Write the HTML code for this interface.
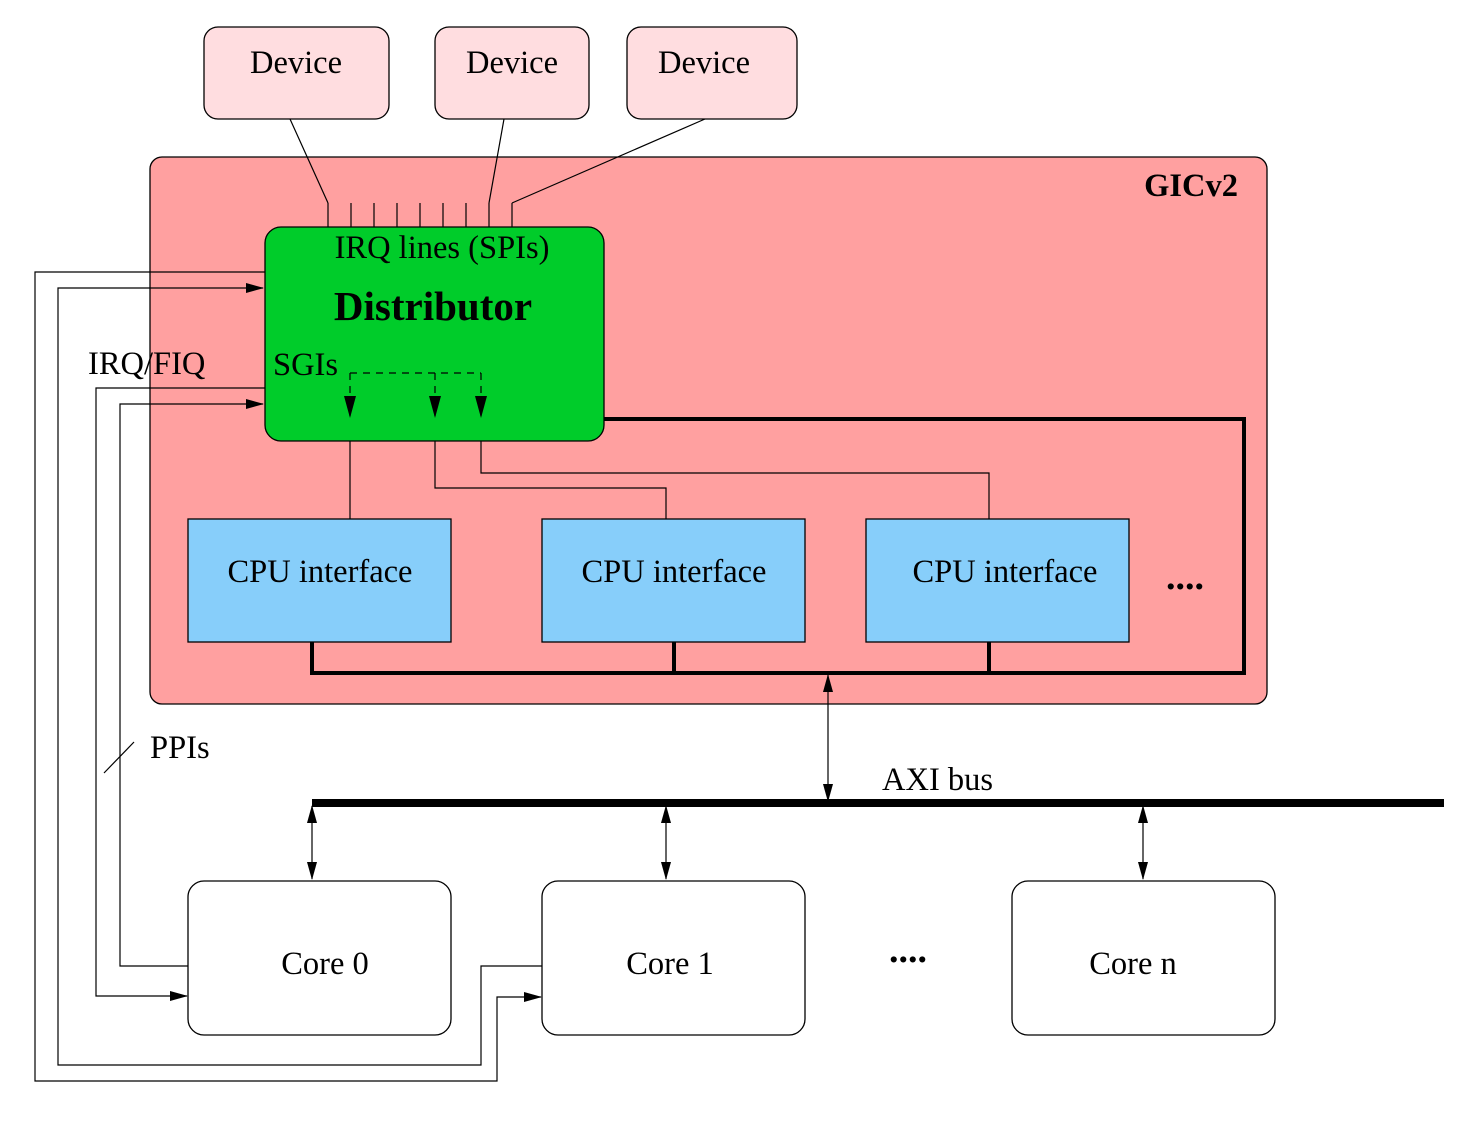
<!DOCTYPE html>
<html><head><style>body{margin:0;background:#fff}</style></head><body>
<svg width="1470" height="1116" xmlns="http://www.w3.org/2000/svg" font-family="Liberation Serif, serif">
<defs>
<marker id="a" markerWidth="18" markerHeight="10" refX="17" refY="5" orient="auto" markerUnits="userSpaceOnUse"><path d="M0,0 L18,5 L0,10 z" fill="#000"/></marker>
<marker id="s" markerWidth="18" markerHeight="10" refX="1" refY="5" orient="auto" markerUnits="userSpaceOnUse"><path d="M18,0 L0,5 L18,10 z" fill="#000"/></marker>
</defs>
<g stroke="#000" stroke-width="1.3">
<rect x="204" y="27" width="185" height="92" rx="14" fill="#ffdde0"/>
<rect x="435" y="27" width="154" height="92" rx="14" fill="#ffdde0"/>
<rect x="627" y="27" width="170" height="92" rx="14" fill="#ffdde0"/>
<rect x="150" y="157" width="1117" height="547" rx="12" fill="#ffa0a0"/>
</g>
<text x="296" y="73" font-size="32.5" text-anchor="middle">Device</text>
<text x="512" y="73" font-size="32.5" text-anchor="middle">Device</text>
<text x="704" y="73" font-size="32.5" text-anchor="middle">Device</text>
<text x="1238" y="196" font-size="32.5" font-weight="bold" text-anchor="end">GICv2</text>
<g stroke="#000" stroke-width="1.2" fill="none">
<path d="M290,119 L328,203 M504,119 L489,203 M705,119 L512,203"/>
<path d="M328,203V227M351,203V227M374,203V227M397,203V227M420,203V227M443,203V227M466,203V227M489,203V227M512,203V227"/>
<path d="M350,441V519 M435,441V488H666V519 M481,441V473H989V519"/>
<path d="M265,272H35V1081H497V997H541" marker-end="url(#a)"/>
<path d="M543,966H481V1065H58V288H263" marker-end="url(#a)"/>
<path d="M265,388H96V996H187" marker-end="url(#a)"/>
<path d="M189,966H120V404H263" marker-end="url(#a)"/>
<path d="M104,773L134,742"/>
<path d="M828,675V801" marker-start="url(#s)" marker-end="url(#a)"/>
<path d="M312,806V879" marker-start="url(#s)" marker-end="url(#a)"/>
<path d="M666,806V879" marker-start="url(#s)" marker-end="url(#a)"/>
<path d="M1143,806V879" marker-start="url(#s)" marker-end="url(#a)"/>
</g>
<rect x="265" y="227" width="339" height="214" rx="16" fill="#00cc2a" stroke="#000" stroke-width="1.3"/>
<text x="442" y="258" font-size="32.5" text-anchor="middle">IRQ lines (SPIs)</text>
<text x="433" y="320" font-size="41" font-weight="bold" text-anchor="middle">Distributor</text>
<text x="273" y="375" font-size="32.5">SGIs</text>
<g stroke="#000" stroke-width="1.2" fill="none" stroke-dasharray="7,6">
<path d="M350,373H481 M350,373V416 M435,373V416 M481,373V416"/>
</g>
<path d="M344,396L350,418L356,396z M429,396L435,418L441,396z M475,396L481,418L487,396z" fill="#000"/>
<g stroke="#000" stroke-width="1.3" fill="#87cefa">
<rect x="188" y="519" width="263" height="123"/>
<rect x="542" y="519" width="263" height="123"/>
<rect x="866" y="519" width="263" height="123"/>
</g>
<text x="320" y="582" font-size="32.5" text-anchor="middle">CPU interface</text>
<text x="674" y="582" font-size="32.5" text-anchor="middle">CPU interface</text>
<text x="1005" y="582" font-size="32.5" text-anchor="middle">CPU interface</text>
<text x="1185" y="589" font-size="38" font-weight="bold" text-anchor="middle">....</text>
<path d="M604,419H1244V673H312V642 M674,642V673 M989,642V673" stroke="#000" stroke-width="4" fill="none"/>
<path d="M312,803H1444" stroke="#000" stroke-width="8"/>
<text x="882" y="790" font-size="32.5">AXI bus</text>
<text x="88" y="374" font-size="32.5">IRQ/FIQ</text>
<text x="150" y="758" font-size="32.5">PPIs</text>
<g stroke="#000" stroke-width="1.3" fill="#fff">
<rect x="188" y="881" width="263" height="154" rx="16"/>
<rect x="542" y="881" width="263" height="154" rx="16"/>
<rect x="1012" y="881" width="263" height="154" rx="16"/>
</g>
<text x="325" y="974" font-size="32.5" text-anchor="middle">Core 0</text>
<text x="670" y="974" font-size="32.5" text-anchor="middle">Core 1</text>
<text x="1133" y="974" font-size="32.5" text-anchor="middle">Core n</text>
<text x="908" y="962" font-size="38" font-weight="bold" text-anchor="middle">....</text>
</svg>
</body></html>
